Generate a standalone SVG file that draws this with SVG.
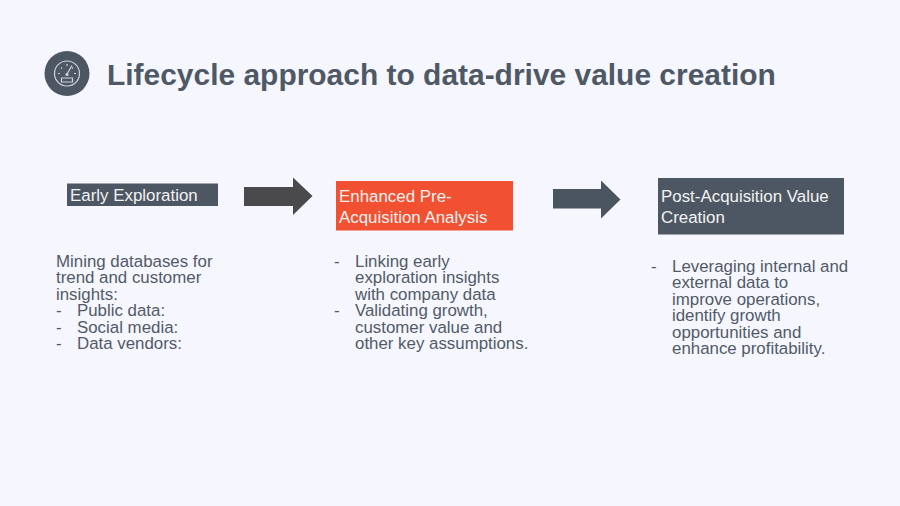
<svg xmlns="http://www.w3.org/2000/svg" width="900" height="506" viewBox="0 0 900 506">
<style>
text{font-family:"Liberation Sans",Arial,sans-serif}
.t{font-size:16.900px;fill:#f2f2f2}
.b{font-size:16.880px;fill:#515b67}
.g{fill:none;stroke:#cfd4da;stroke-width:1.2}
</style>
<rect width="900" height="506" fill="#f5f6fe"/>
<g id="icon">
<circle cx="67" cy="73.500" r="22.500" fill="#4d5763"/>
<circle class="g" cx="67" cy="73.500" r="12.500"/>
<path class="g" d="M67 74L72 65.500M61.500 82h11v-4h-11z"/>
<circle cx="67" cy="74.500" r="1.600" fill="#cfd4da"/>
<path class="g" d="M58 73.500h2M74 73.500h2M61 67.500l1 1M67 64v2M73 67.500l-1 1" stroke-width="1"/>
</g>
<text id="title" x="107" y="85" font-size="29.950" font-weight="700" fill="#4f5965">Lifecycle approach to data-drive value creation</text>
<g id="node1">
<rect x="67" y="183.500" width="151" height="22.500" fill="#4d5763"/>
<text class="t" x="70" y="201">Early Exploration</text>
</g>
<g id="node2">
<rect x="336" y="181" width="177" height="49.500" fill="#f15131"/>
<text class="t" x="339" y="202">Enhanced Pre-</text>
<text class="t" x="339" y="222.500">Acquisition Analysis</text>
</g>
<g id="node3">
<rect x="658" y="178" width="186" height="56.500" fill="#4d5763"/>
<text class="t" x="661" y="202">Post-Acquisition Value</text>
<text class="t" x="661" y="222.500">Creation</text>
</g>
<g id="connectors">
<path d="M244 187H293V177.500L312.500 196L293 215V206H244Z" fill="#4a4a4c"/>
<path d="M553 189H601V180.500L620.500 199.500L601 218.500V208.500H553Z" fill="#4a5560"/>
</g>
<g id="text1">
<text class="b" x="56" y="266.500">Mining databases for</text>
<text class="b" x="56" y="283">trend and customer</text>
<text class="b" x="56" y="299.500">insights:</text>
<text class="b" x="56" y="316">-</text><text class="b" x="77" y="316">Public data:</text>
<text class="b" x="56" y="332.500">-</text><text class="b" x="77" y="332.500">Social media:</text>
<text class="b" x="56" y="349">-</text><text class="b" x="77" y="349">Data vendors:</text>
</g>
<g id="text2">
<text class="b" x="334" y="266.500">-</text><text class="b" x="355" y="266.500">Linking early</text>
<text class="b" x="355" y="283">exploration insights</text>
<text class="b" x="355" y="299.500">with company data</text>
<text class="b" x="334" y="316">-</text><text class="b" x="355" y="316">Validating growth,</text>
<text class="b" x="355" y="332.500">customer value and</text>
<text class="b" x="355" y="349">other key assumptions.</text>
</g>
<g id="text3">
<text class="b" x="651" y="271.500">-</text><text class="b" x="672" y="271.500">Leveraging internal and</text>
<text class="b" x="672" y="288">external data to</text>
<text class="b" x="672" y="304.500">improve operations,</text>
<text class="b" x="672" y="321">identify growth</text>
<text class="b" x="672" y="337.500">opportunities and</text>
<text class="b" x="672" y="354">enhance profitability.</text>
</g>
</svg>
